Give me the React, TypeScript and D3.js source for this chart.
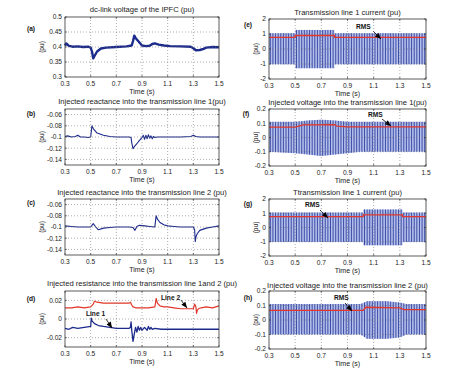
import React from "react";
import * as d3 from "d3";

// ---------- data ----------
const xTicks = [0.3, 0.5, 0.7, 0.9, 1.1, 1.3, 1.5];

// (a) dc-link voltage
const timeA = [0.3,0.31,0.33,0.36,0.4,0.44,0.48,0.5,0.51,0.52,0.53,0.55,0.58,0.62,0.7,0.78,0.82,0.83,0.84,0.85,0.87,0.9,0.93,0.96,0.98,1.0,1.03,1.07,1.12,1.2,1.28,1.3,1.32,1.35,1.38,1.4,1.45,1.5];
const valA = [0.405,0.412,0.404,0.401,0.402,0.400,0.401,0.398,0.385,0.362,0.37,0.385,0.395,0.398,0.400,0.402,0.405,0.42,0.438,0.43,0.42,0.405,0.403,0.404,0.41,0.412,0.408,0.405,0.403,0.402,0.401,0.396,0.389,0.390,0.394,0.398,0.400,0.399];

// (b) reactance line 1
const timeB = [0.3,0.32,0.35,0.38,0.4,0.42,0.45,0.48,0.5,0.505,0.51,0.52,0.55,0.6,0.65,0.7,0.75,0.8,0.815,0.82,0.83,0.84,0.86,0.88,0.9,0.91,0.92,0.93,0.94,0.95,0.96,0.97,0.98,0.99,1.0,1.02,1.05,1.1,1.2,1.28,1.3,1.32,1.35,1.4,1.5];
const valB = [-0.099,-0.098,-0.1,-0.099,-0.097,-0.1,-0.1,-0.101,-0.1,-0.09,-0.08,-0.085,-0.093,-0.097,-0.099,-0.1,-0.1,-0.1,-0.101,-0.11,-0.121,-0.117,-0.112,-0.106,-0.101,-0.097,-0.104,-0.097,-0.103,-0.096,-0.102,-0.098,-0.103,-0.099,-0.101,-0.1,-0.1,-0.1,-0.1,-0.099,-0.097,-0.099,-0.1,-0.1,-0.1];

// (c) reactance line 2
const timeC = [0.3,0.35,0.4,0.45,0.5,0.52,0.54,0.56,0.6,0.65,0.7,0.75,0.8,0.83,0.845,0.86,0.88,0.92,0.96,1.0,1.005,1.01,1.02,1.04,1.07,1.1,1.15,1.2,1.25,1.3,1.31,1.315,1.32,1.33,1.35,1.4,1.45,1.5];
const valC = [-0.098,-0.099,-0.1,-0.1,-0.1,-0.094,-0.1,-0.105,-0.102,-0.101,-0.1,-0.1,-0.1,-0.101,-0.106,-0.099,-0.097,-0.098,-0.099,-0.1,-0.09,-0.08,-0.086,-0.092,-0.096,-0.098,-0.099,-0.1,-0.1,-0.1,-0.105,-0.126,-0.118,-0.112,-0.106,-0.102,-0.1,-0.098];

// (d) resistance, line 2 (red) and line 1 (blue)
const timeD2 = [0.3,0.35,0.4,0.45,0.5,0.52,0.53,0.55,0.6,0.65,0.7,0.75,0.8,0.81,0.82,0.83,0.85,0.9,0.95,1.0,1.005,1.01,1.02,1.04,1.07,1.1,1.15,1.2,1.25,1.3,1.31,1.32,1.325,1.33,1.34,1.36,1.4,1.45,1.5];
const valD2 = [0.012,0.012,0.013,0.012,0.013,0.016,0.019,0.018,0.017,0.017,0.017,0.017,0.017,0.018,0.015,0.013,0.012,0.012,0.012,0.013,0.017,0.022,0.017,0.014,0.013,0.013,0.012,0.011,0.011,0.011,0.016,0.013,0.006,0.009,0.011,0.012,0.013,0.012,0.014];
const timeD1 = [0.3,0.33,0.36,0.4,0.45,0.5,0.505,0.51,0.53,0.56,0.6,0.65,0.7,0.75,0.8,0.81,0.815,0.82,0.83,0.84,0.85,0.86,0.87,0.88,0.89,0.9,0.92,0.94,0.95,0.96,0.97,0.98,1.0,1.05,1.1,1.2,1.3,1.4,1.5];
const valD1 = [-0.01,-0.011,-0.009,-0.01,-0.009,-0.008,0.001,-0.002,-0.005,-0.007,-0.008,-0.009,-0.01,-0.01,-0.01,-0.009,-0.003,-0.012,-0.024,-0.016,-0.009,-0.014,-0.008,-0.012,-0.009,-0.012,-0.009,-0.012,-0.008,-0.011,-0.009,-0.011,-0.01,-0.011,-0.011,-0.011,-0.011,-0.011,-0.011];

// (e) line 1 current envelope + RMS (step)
const timeE = [0.3, 0.5, 0.8, 1.5];
const upperE = [1.05, 1.27, 1.05, 1.05];
const lowerE = [-1.02, -1.28, -1.02, -1.02];
const rmsE = [0.78, 0.9, 0.78, 0.78];

// (f) injected voltage line 1
const timeF = [0.3, 0.5, 0.6, 0.7, 0.8, 0.9, 1.0, 1.2, 1.5];
const upperF = [0.11, 0.11, 0.12, 0.125, 0.12, 0.11, 0.11, 0.11, 0.11];
const lowerF = [-0.1, -0.11, -0.12, -0.13, -0.12, -0.11, -0.1, -0.1, -0.1];
const rmsTimeF = [0.3, 0.5, 0.56, 0.8, 0.82, 0.9, 1.5];
const rmsF = [0.073, 0.073, 0.088, 0.09, 0.08, 0.075, 0.075];

// (g) line current (second)
const timeG = [0.3, 1.02, 1.32, 1.5];
const upperG = [1.05, 1.27, 1.05, 1.05];
const lowerG = [-1.02, -1.25, -1.02, -1.02];
const rmsG = [0.76, 0.88, 0.76, 0.76];

// (h) injected voltage line 2
const timeH = [0.3, 1.0, 1.05, 1.2, 1.3, 1.35, 1.5];
const upperH = [0.11, 0.11, 0.13, 0.13, 0.12, 0.11, 0.11];
const lowerH = [-0.1, -0.1, -0.13, -0.13, -0.12, -0.1, -0.1];
const rmsTimeH = [0.3, 1.02, 1.04, 1.3, 1.33, 1.5];
const rmsH = [0.066, 0.066, 0.088, 0.083, 0.072, 0.072];

const CYCLE = 0.02; // 50 Hz period of the AC waveforms

// ---------- styling ----------
const FONT = "'Liberation Sans', Arial, sans-serif";
const NAVY = "#1c2a8c";
const LIGHT = "#b3bfea";
const STRIPE = "#2f40a0";
const RED = "#e2372a";

function Frame({ box, y, yTicks, yFmt, title, label, titleY, children }: any) {
  const x = d3.scaleLinear().domain([0.3, 1.5]).range([box.x0, box.x1]);
  const [d0, d1] = y.domain();
  const inner = yTicks.filter((t: number) => Math.abs(t - d0) > 1e-9 && Math.abs(t - d1) > 1e-9);
  return (
    <g>
      <text x={(box.x0 + box.x1) / 2} y={titleY} fontSize={7.6} textAnchor="middle" fill="#222">{title}</text>
      <rect x={box.x0} y={box.y0} width={box.x1 - box.x0} height={box.y1 - box.y0} fill="#fff" />
      {children}
      {xTicks.slice(1, -1).map((t) => (
        <line key={"gx" + t} x1={x(t)} x2={x(t)} y1={box.y0} y2={box.y1} stroke="#777" strokeWidth={0.6} strokeDasharray="1,2" />
      ))}
      {inner.map((t: number) => (
        <line key={"gy" + t} x1={box.x0} x2={box.x1} y1={y(t)} y2={y(t)} stroke="#777" strokeWidth={0.6} strokeDasharray="1,2" />
      ))}
      <rect x={box.x0} y={box.y0} width={box.x1 - box.x0} height={box.y1 - box.y0} fill="none" stroke="#333" strokeWidth={0.8} />
      {xTicks.map((t) => (
        <g key={"tx" + t}>
          <line x1={x(t)} x2={x(t)} y1={box.y1} y2={box.y1 - 2} stroke="#333" strokeWidth={0.6} />
          <line x1={x(t)} x2={x(t)} y1={box.y0} y2={box.y0 + 2} stroke="#333" strokeWidth={0.6} />
          <text x={x(t)} y={box.y1 + 9} fontSize={6.6} textAnchor="middle" fill="#222">{t}</text>
        </g>
      ))}
      {yTicks.map((t: number) => (
        <g key={"ty" + t}>
          <line x1={box.x0} x2={box.x0 + 2} y1={y(t)} y2={y(t)} stroke="#333" strokeWidth={0.6} />
          <line x1={box.x1} x2={box.x1 - 2} y1={y(t)} y2={y(t)} stroke="#333" strokeWidth={0.6} />
          <text x={box.x0 - 3} y={y(t) + 2.3} fontSize={6.6} textAnchor="end" fill="#222">{yFmt(t)}</text>
        </g>
      ))}
      <text x={(box.x0 + box.x1) / 2} y={box.y1 + 17} fontSize={7} textAnchor="middle" fill="#222">Time (s)</text>
      <text transform={`translate(${box.x0 - (box.x0 > 200 ? 11 : 21)},${(box.y0 + box.y1) / 2}) rotate(-90)`} fontSize={6.6} textAnchor="middle" fill="#222">(pu)</text>
      <text x={label.x} y={label.y} fontSize={6.6} fontWeight="bold" textAnchor="middle" fill="#111">{label.t}</text>
    </g>
  );
}

function LinePanel({ box, domain, yTicks, yFmt, title, label, titleY, series }: any) {
  const x = d3.scaleLinear().domain([0.3, 1.5]).range([box.x0, box.x1]);
  const y = d3.scaleLinear().domain(domain).range([box.y1, box.y0]);
  return (
    <Frame box={box} y={y} yTicks={yTicks} yFmt={yFmt} title={title} label={label} titleY={titleY}>
      {series.map((s: any, i: number) => {
        const line = d3.line<number>().x((_, j) => x(s.t[j])).y((v) => y(v));
        return <path key={i} d={line(s.v) || ""} fill="none" stroke={s.color} strokeWidth={s.w} strokeLinejoin="round" />;
      })}
    </Frame>
  );
}

function WavePanel({ box, domain, yTicks, yFmt, title, label, titleY, t, up, lo, rt, rv, step, rms }: any) {
  const x = d3.scaleLinear().domain([0.3, 1.5]).range([box.x0, box.x1]);
  const y = d3.scaleLinear().domain(domain).range([box.y1, box.y0]);
  const curve = step ? d3.curveStepAfter : d3.curveLinear;
  const area = d3.area<number>().x((_, j) => x(t[j])).y0((_, j) => y(lo[j])).y1((v) => y(v)).curve(curve);
  const envAt = (tt: number) => {
    const i = Math.max(0, d3.bisectRight(t, tt) - 1);
    if (step) return [up[i], lo[i]];
    const j = Math.min(i + 1, t.length - 1);
    const f = t[j] === t[i] ? 0 : (tt - t[i]) / (t[j] - t[i]);
    return [up[i] + f * (up[j] - up[i]), lo[i] + f * (lo[j] - lo[i])];
  };
  const cycles = d3.range(0.3 + CYCLE / 2, 1.5, CYCLE);
  const rline = d3.line<number>().x((_, j) => x(rt[j])).y((v) => y(v)).curve(curve);
  return (
    <Frame box={box} y={y} yTicks={yTicks} yFmt={yFmt} title={title} label={label} titleY={titleY}>
      <path d={area(up) || ""} fill={LIGHT} />
      {cycles.map((c: number, k: number) => {
        const [u, l] = envAt(c);
        return <line key={k} x1={x(c)} x2={x(c)} y1={y(u)} y2={y(l)} stroke={STRIPE} strokeWidth={0.9} />;
      })}
      <path d={rline(rv) || ""} fill="none" stroke={RED} strokeWidth={1.3} />
      <text x={rms.tx} y={rms.ty} fontSize={6.6} fontWeight="bold" fill="#111">RMS</text>
      <line x1={rms.ax} y1={rms.ay} x2={rms.bx} y2={rms.by} stroke="#000" strokeWidth={0.8} />
      <path d={arrowHead(rms.ax, rms.ay, rms.bx, rms.by)} fill="#000" />
    </Frame>
  );
}

function arrowHead(ax: number, ay: number, bx: number, by: number) {
  const ang = Math.atan2(by - ay, bx - ax);
  const L = 6, W = 2.5;
  const px = bx - L * Math.cos(ang), py = by - L * Math.sin(ang);
  const nx = -Math.sin(ang) * W, ny = Math.cos(ang) * W;
  return `M${bx},${by}L${px + nx},${py + ny}L${px - nx},${py - ny}Z`;
}

const trim = (s: string) => s.replace(/(\.\d*?)0+$/, "$1").replace(/\.$/, "");
const fmtNum = (t: number, dec: number) => (Math.abs(t) < 1e-12 ? "0" : trim(t.toFixed(dec)));

export default function App() {
  const L = { x0: 65, x1: 219 };
  const R = { x0: 269, x1: 426 };
  const f2 = (t: number) => fmtNum(t, 2);
  const f1 = (t: number) => fmtNum(t, 1);
  return (
    <svg width={474} height={369} style={{ position: "absolute", left: 0, top: 0, background: "#fff" }} fontFamily={FONT}>
      <rect width={474} height={369} fill="#fff" />
      <LinePanel box={{ ...L, y0: 17, y1: 77 }} domain={[0.3, 0.5]} yTicks={[0.3, 0.35, 0.4, 0.45, 0.5]} yFmt={f2}
        title="dc-link voltage of the IPFC (pu)" titleY={11.5} label={{ t: "(a)", x: 31, y: 31 }}
        series={[{ t: timeA, v: valA, color: NAVY, w: 2.4 }]} />
      <LinePanel box={{ ...L, y0: 109, y1: 165 }} domain={[-0.15, -0.05]} yTicks={[-0.14, -0.12, -0.1, -0.08, -0.06]} yFmt={f2}
        title="Injected reactance into the transmission line 1(pu)" titleY={103.5} label={{ t: "(b)", x: 31, y: 116 }}
        series={[{ t: timeB, v: valB, color: NAVY, w: 1.1 }]} />
      <LinePanel box={{ ...L, y0: 199, y1: 255 }} domain={[-0.15, -0.05]} yTicks={[-0.14, -0.12, -0.1, -0.08, -0.06]} yFmt={f2}
        title="Injected reactance into the transmission line 2 (pu)" titleY={194.5} label={{ t: "(c)", x: 31, y: 205 }}
        series={[{ t: timeC, v: valC, color: NAVY, w: 1.1 }]} />
      <LinePanel box={{ ...L, y0: 291, y1: 347 }} domain={[-0.03, 0.03]} yTicks={[-0.02, 0, 0.02]} yFmt={f2}
        title="Injected resistance into the transmission line 1and 2 (pu)" titleY={285.5} label={{ t: "(d)", x: 31, y: 301 }}
        series={[{ t: timeD2, v: valD2, color: RED, w: 1.2 }, { t: timeD1, v: valD1, color: NAVY, w: 1.3 }]} />
      {/* line labels in (d) */}
      <text x={86} y={316} fontSize={6.6} fontWeight="bold" fill="#111">Line 1</text>
      <line x1={106} y1={319} x2={112} y2={328} stroke="#000" strokeWidth={0.8} />
      <path d={arrowHead(106, 319, 112, 328)} fill="#000" />
      <text x={161} y={300} fontSize={6.6} fontWeight="bold" fill="#111">Line 2</text>
      <line x1={181} y1={300} x2={187} y2={308} stroke="#000" strokeWidth={0.8} />
      <path d={arrowHead(181, 300, 187, 308)} fill="#000" />

      <WavePanel box={{ ...R, y0: 19, y1: 79 }} domain={[-2, 2]} yTicks={[-2, -1, 0, 1, 2]} yFmt={f1}
        title="Transmission line 1 current (pu)" titleY={14.5} label={{ t: "(e)", x: 248, y: 27 }}
        t={timeE} up={upperE} lo={lowerE} rt={timeE} rv={rmsE} step
        rms={{ tx: 356, ty: 29, ax: 373, ay: 31, bx: 381, by: 39 }} />
      <WavePanel box={{ ...R, y0: 109, y1: 166 }} domain={[-0.2, 0.2]} yTicks={[-0.2, -0.1, 0, 0.1, 0.2]} yFmt={f1}
        title="Injected voltage  into the transmission line 1(pu)" titleY={104.5} label={{ t: "(f)", x: 246, y: 116 }}
        t={timeF} up={upperF} lo={lowerF} rt={rmsTimeF} rv={rmsF}
        rms={{ tx: 368, ty: 117, ax: 382, ay: 119, bx: 391, by: 126 }} />
      <WavePanel box={{ ...R, y0: 199, y1: 256 }} domain={[-2, 2]} yTicks={[-2, -1, 0, 1, 2]} yFmt={f1}
        title="Ttransmission line 1 current (pu)" titleY={194.5} label={{ t: "(g)", x: 248, y: 206 }}
        t={timeG} up={upperG} lo={lowerG} rt={timeG} rv={rmsG} step
        rms={{ tx: 305, ty: 207, ax: 320, ay: 210, bx: 328, by: 218 }} />
      <WavePanel box={{ ...R, y0: 291, y1: 349 }} domain={[-0.2, 0.2]} yTicks={[-0.2, -0.1, 0, 0.1, 0.2]} yFmt={f1}
        title="Injected voltage  into the transmission line 2 (pu)" titleY={287.5} label={{ t: "(h)", x: 248, y: 300 }}
        t={timeH} up={upperH} lo={lowerH} rt={rmsTimeH} rv={rmsH}
        rms={{ tx: 334, ty: 300, ax: 345, ay: 303, bx: 352, by: 311 }} />
    </svg>
  );
}
